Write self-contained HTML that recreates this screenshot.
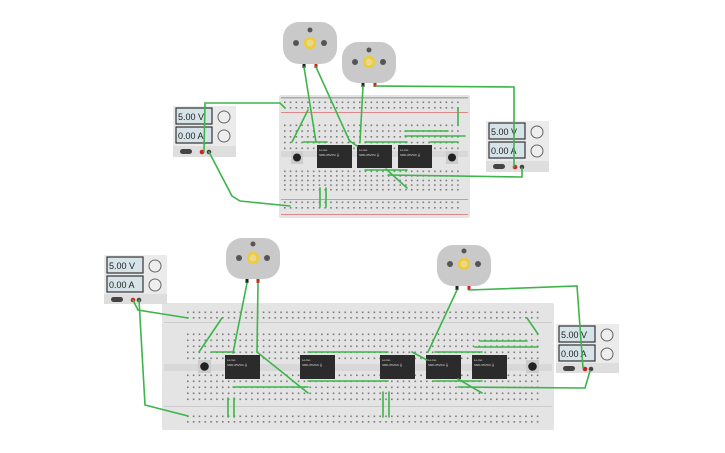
<!DOCTYPE html>
<html><head><meta charset="utf-8"><style>
html,body{margin:0;padding:0;background:#fff;}
svg{display:block;}
text{font-family:"Liberation Sans",sans-serif;}
</style></head><body>
<svg width="725" height="453" viewBox="0 0 725 453" xmlns="http://www.w3.org/2000/svg">
<defs>
<pattern id="ta" x="284" y="124.5" width="5.77" height="5.75" patternUnits="userSpaceOnUse"><rect width="1.6" height="1.6" fill="#7a7a7a"/></pattern>
<pattern id="tf" x="284" y="170.5" width="5.77" height="4.6" patternUnits="userSpaceOnUse"><rect width="1.6" height="1.6" fill="#7a7a7a"/></pattern>
<pattern id="tr1" x="284" y="101.5" width="5.77" height="5.5" patternUnits="userSpaceOnUse"><rect width="1.6" height="1.6" fill="#7a7a7a"/></pattern>
<pattern id="tr2" x="284" y="201.5" width="5.77" height="5.5" patternUnits="userSpaceOnUse"><rect width="1.6" height="1.6" fill="#7a7a7a"/></pattern>
<pattern id="ba" x="187" y="333.5" width="5.83" height="6" patternUnits="userSpaceOnUse"><rect width="1.6" height="1.6" fill="#7a7a7a"/></pattern>
<pattern id="bf" x="187" y="374.5" width="5.83" height="6" patternUnits="userSpaceOnUse"><rect width="1.6" height="1.6" fill="#7a7a7a"/></pattern>
<pattern id="br1" x="187" y="311.5" width="5.83" height="5.5" patternUnits="userSpaceOnUse"><rect width="1.6" height="1.6" fill="#7a7a7a"/></pattern>
<pattern id="br2" x="187" y="415.5" width="5.83" height="5.5" patternUnits="userSpaceOnUse"><rect width="1.6" height="1.6" fill="#7a7a7a"/></pattern>
</defs>

<!-- TOP BREADBOARD -->
<rect x="279" y="95" width="191" height="123" fill="#e4e4e4" rx="2"/>
<rect x="281" y="97" width="187" height="1.5" fill="#aaa"/>
<rect x="281" y="112" width="187" height="1" fill="#d88"/>
<rect x="281" y="199" width="187" height="1" fill="#aaa"/>
<rect x="281" y="214" width="187" height="1" fill="#d88"/>
<rect x="281" y="151" width="187" height="6" fill="#d8d8d8"/>
<rect x="284" y="101" width="176" height="9" fill="url(#tr1)"/>
<rect x="284" y="124" width="176" height="26" fill="url(#ta)"/>
<rect x="284" y="170" width="176" height="21" fill="url(#tf)"/>
<rect x="284" y="201" width="176" height="9" fill="url(#tr2)"/>
<g fill="#2b2b2b"><rect x="317" y="145" width="35" height="23"/><rect x="357" y="145" width="35" height="23"/><rect x="398" y="145" width="34" height="23"/></g>
<g fill="#ddd" font-size="3"><text x="319" y="151">Lo-Go</text><text x="319" y="156">SRD-05VDC ╫</text><text x="359" y="151">Lo-Go</text><text x="359" y="156">SRD-05VDC ╫</text><text x="400" y="151">Lo-Go</text><text x="400" y="156">SRD-05VDC ╫</text></g>
<rect x="291" y="151" width="12" height="13" fill="#ccc"/><circle cx="297" cy="157.5" r="4" fill="#222"/>
<rect x="446" y="151" width="12" height="13" fill="#ccc"/><circle cx="452" cy="157.5" r="4" fill="#222"/>

<!-- BOTTOM BREADBOARD -->
<rect x="162" y="303" width="392" height="127" fill="#e4e4e4" rx="2"/>
<rect x="164" y="322" width="388" height="1" fill="#ccc"/>
<rect x="164" y="406" width="388" height="1" fill="#ccc"/>
<rect x="164" y="364" width="388" height="7" fill="#d8d8d8"/>
<rect x="187" y="311" width="352" height="8" fill="url(#br1)"/>
<rect x="187" y="333" width="352" height="27" fill="url(#ba)"/>
<rect x="187" y="374" width="352" height="27" fill="url(#bf)"/>
<rect x="187" y="415" width="352" height="8" fill="url(#br2)"/>
<g fill="#2b2b2b"><rect x="225" y="355" width="35" height="24"/><rect x="300" y="355" width="35" height="24"/><rect x="380" y="355" width="35" height="24"/><rect x="426" y="355" width="35" height="24"/><rect x="472" y="355" width="35" height="24"/></g>
<g fill="#ddd" font-size="3"><text x="227" y="361">Lo-Go</text><text x="227" y="366">SRD-05VDC ╫</text><text x="302" y="361">Lo-Go</text><text x="302" y="366">SRD-05VDC ╫</text><text x="382" y="361">Lo-Go</text><text x="382" y="366">SRD-05VDC ╫</text><text x="428" y="361">Lo-Go</text><text x="428" y="366">SRD-05VDC ╫</text><text x="474" y="361">Lo-Go</text><text x="474" y="366">SRD-05VDC ╫</text></g>
<rect x="198" y="360" width="13" height="13" fill="#ccc"/><circle cx="204.5" cy="366.5" r="4.3" fill="#222"/>
<rect x="526" y="360" width="13" height="13" fill="#ccc"/><circle cx="532.5" cy="366.5" r="4.3" fill="#222"/>

<!-- MOTORS -->
<g><rect x="283" y="22" width="54" height="42" rx="16" fill="#c9c9c9"/><circle cx="310" cy="30" r="2.5" fill="#555"/><circle cx="296" cy="43" r="3" fill="#555"/><circle cx="324" cy="43" r="3" fill="#555"/><circle cx="310" cy="43" r="6" fill="#f0cc30"/><circle cx="310" cy="43" r="3.5" fill="#e8d890"/></g>
<g><rect x="342" y="42" width="54" height="41" rx="16" fill="#c9c9c9"/><circle cx="369" cy="50" r="2.5" fill="#555"/><circle cx="355" cy="62" r="3" fill="#555"/><circle cx="383" cy="62" r="3" fill="#555"/><circle cx="369" cy="62" r="6" fill="#f0cc30"/><circle cx="369" cy="62" r="3.5" fill="#e8d890"/></g>
<g><rect x="226" y="238" width="54" height="41" rx="16" fill="#c9c9c9"/><circle cx="253" cy="244" r="2.5" fill="#555"/><circle cx="239" cy="258" r="3" fill="#555"/><circle cx="267" cy="258" r="3" fill="#555"/><circle cx="253" cy="258" r="6" fill="#f0cc30"/><circle cx="253" cy="258" r="3.5" fill="#e8d890"/></g>
<g><rect x="437" y="245" width="54" height="41" rx="16" fill="#c9c9c9"/><circle cx="464" cy="251" r="2.5" fill="#555"/><circle cx="450" cy="264" r="3" fill="#555"/><circle cx="478" cy="264" r="3" fill="#555"/><circle cx="464" cy="264" r="6" fill="#f0cc30"/><circle cx="464" cy="264" r="3.5" fill="#e8d890"/></g>
<g fill="#222"><rect x="302.5" y="64" width="3" height="4"/><rect x="361.5" y="83" width="3" height="4"/><rect x="245.5" y="279" width="3" height="4"/><rect x="455.5" y="286" width="3" height="4"/></g>
<g fill="#c22"><rect x="314.5" y="64" width="3" height="4"/><rect x="373.5" y="83" width="3" height="4"/><rect x="256.5" y="279" width="3" height="4"/><rect x="467.5" y="286" width="3" height="4"/></g>

<!-- PSUs -->
<g>
<rect x="173" y="106" width="63" height="51" fill="#ebebeb"/><rect x="173" y="146" width="63" height="11" fill="#dedede"/>
<rect x="176" y="108" width="36" height="16" fill="#d6e4ea" stroke="#333" stroke-width="1.2"/><text x="178" y="120" font-size="9" fill="#222">5.00 V</text>
<rect x="176" y="127" width="36" height="16" fill="#d6e4ea" stroke="#333" stroke-width="1.2"/><text x="178" y="139" font-size="9" fill="#222">0.00 A</text>
<circle cx="224" cy="117" r="6" fill="#eee" stroke="#666"/><circle cx="224" cy="136" r="6" fill="#eee" stroke="#666"/>
<rect x="180" y="149" width="12" height="5" rx="2.5" fill="#444"/><circle cx="202" cy="152" r="2.3" fill="#c22"/><circle cx="209" cy="152" r="2.3" fill="#444"/>
</g>
<g>
<rect x="486" y="121" width="63" height="51" fill="#ebebeb"/><rect x="486" y="161" width="63" height="11" fill="#dedede"/>
<rect x="489" y="123" width="36" height="16" fill="#d6e4ea" stroke="#333" stroke-width="1.2"/><text x="491" y="135" font-size="9" fill="#222">5.00 V</text>
<rect x="489" y="142" width="36" height="16" fill="#d6e4ea" stroke="#333" stroke-width="1.2"/><text x="491" y="154" font-size="9" fill="#222">0.00 A</text>
<circle cx="537" cy="132" r="6" fill="#eee" stroke="#666"/><circle cx="537" cy="151" r="6" fill="#eee" stroke="#666"/>
<rect x="493" y="164" width="12" height="5" rx="2.5" fill="#444"/><circle cx="515" cy="167" r="2.3" fill="#c22"/><circle cx="522" cy="167" r="2.3" fill="#444"/>
</g>
<g>
<rect x="104" y="255" width="63" height="49" fill="#ebebeb"/><rect x="104" y="294" width="63" height="10" fill="#dedede"/>
<rect x="107" y="257" width="36" height="16" fill="#d6e4ea" stroke="#333" stroke-width="1.2"/><text x="109" y="269" font-size="9" fill="#222">5.00 V</text>
<rect x="107" y="276" width="36" height="16" fill="#d6e4ea" stroke="#333" stroke-width="1.2"/><text x="109" y="288" font-size="9" fill="#222">0.00 A</text>
<circle cx="155" cy="266" r="6" fill="#eee" stroke="#666"/><circle cx="155" cy="285" r="6" fill="#eee" stroke="#666"/>
<rect x="111" y="297" width="12" height="5" rx="2.5" fill="#444"/><circle cx="133" cy="300" r="2.3" fill="#c22"/><circle cx="139" cy="300" r="2.3" fill="#444"/>
</g>
<g>
<rect x="556" y="324" width="63" height="49" fill="#ebebeb"/><rect x="556" y="363" width="63" height="10" fill="#dedede"/>
<rect x="559" y="326" width="36" height="16" fill="#d6e4ea" stroke="#333" stroke-width="1.2"/><text x="561" y="338" font-size="9" fill="#222">5.00 V</text>
<rect x="559" y="345" width="36" height="16" fill="#d6e4ea" stroke="#333" stroke-width="1.2"/><text x="561" y="357" font-size="9" fill="#222">0.00 A</text>
<circle cx="607" cy="335" r="6" fill="#eee" stroke="#666"/><circle cx="607" cy="354" r="6" fill="#eee" stroke="#666"/>
<rect x="563" y="366" width="12" height="5" rx="2.5" fill="#444"/><circle cx="585" cy="369" r="2.3" fill="#c22"/><circle cx="591" cy="369" r="2.3" fill="#444"/>
</g>

<!-- WIRES -->
<g stroke="#3db54a" stroke-width="1.6" fill="none" stroke-linecap="round">
<polyline points="204,152 205,103 280,103 285,108"/>
<polyline points="209,152 232,196 240,201 290,206"/>
<line x1="304" y1="67" x2="316" y2="142"/>
<line x1="308" y1="110" x2="292" y2="142"/>
<line x1="316" y1="67" x2="350" y2="142"/>
<line x1="363" y1="86" x2="360" y2="142"/>
<polyline points="375,86 514,87 514,167"/>
<polyline points="522,168 522,177 388,175"/>
<line x1="386" y1="169" x2="407" y2="188"/>
<line x1="350" y1="141" x2="357" y2="146"/>
<line x1="303" y1="142" x2="327" y2="142"/>
<line x1="365" y1="142" x2="407" y2="142"/>
<line x1="405" y1="131" x2="448" y2="131"/>
<line x1="405" y1="136" x2="465" y2="136"/>
<line x1="430" y1="142" x2="458" y2="142"/>
<line x1="458" y1="108" x2="458" y2="125"/>
<line x1="365" y1="170" x2="407" y2="170"/>
<line x1="320" y1="188" x2="320" y2="207"/>
<line x1="326" y1="188" x2="326" y2="207"/>
<polyline points="133,300 138,310 188,318"/>
<polyline points="139,300 145,405 188,416"/>
<line x1="222" y1="318" x2="199" y2="352"/>
<line x1="247" y1="283" x2="233" y2="353"/>
<line x1="258" y1="283" x2="257" y2="352"/>
<line x1="257" y1="352" x2="308" y2="393"/>
<line x1="211" y1="352" x2="233" y2="352"/>
<line x1="308" y1="352" x2="388" y2="352"/>
<line x1="308" y1="381" x2="388" y2="381"/>
<line x1="233" y1="387" x2="308" y2="387"/>
<line x1="435" y1="352" x2="482" y2="352"/>
<line x1="475" y1="347" x2="538" y2="347"/>
<line x1="480" y1="341" x2="527" y2="341"/>
<line x1="433" y1="381" x2="482" y2="381"/>
<polyline points="458,387 585,388 590,371"/>
<line x1="228" y1="398" x2="228" y2="417"/>
<line x1="234" y1="398" x2="234" y2="417"/>
<line x1="383" y1="392" x2="383" y2="417"/>
<line x1="389" y1="392" x2="389" y2="417"/>
<line x1="457" y1="290" x2="428" y2="352"/>
<line x1="412" y1="352" x2="427" y2="360"/>
<polyline points="469,290 577,286 583,368"/>
<line x1="527" y1="318" x2="538" y2="334"/>
<line x1="458" y1="379" x2="482" y2="393"/>
</g>
</svg>
</body></html>
